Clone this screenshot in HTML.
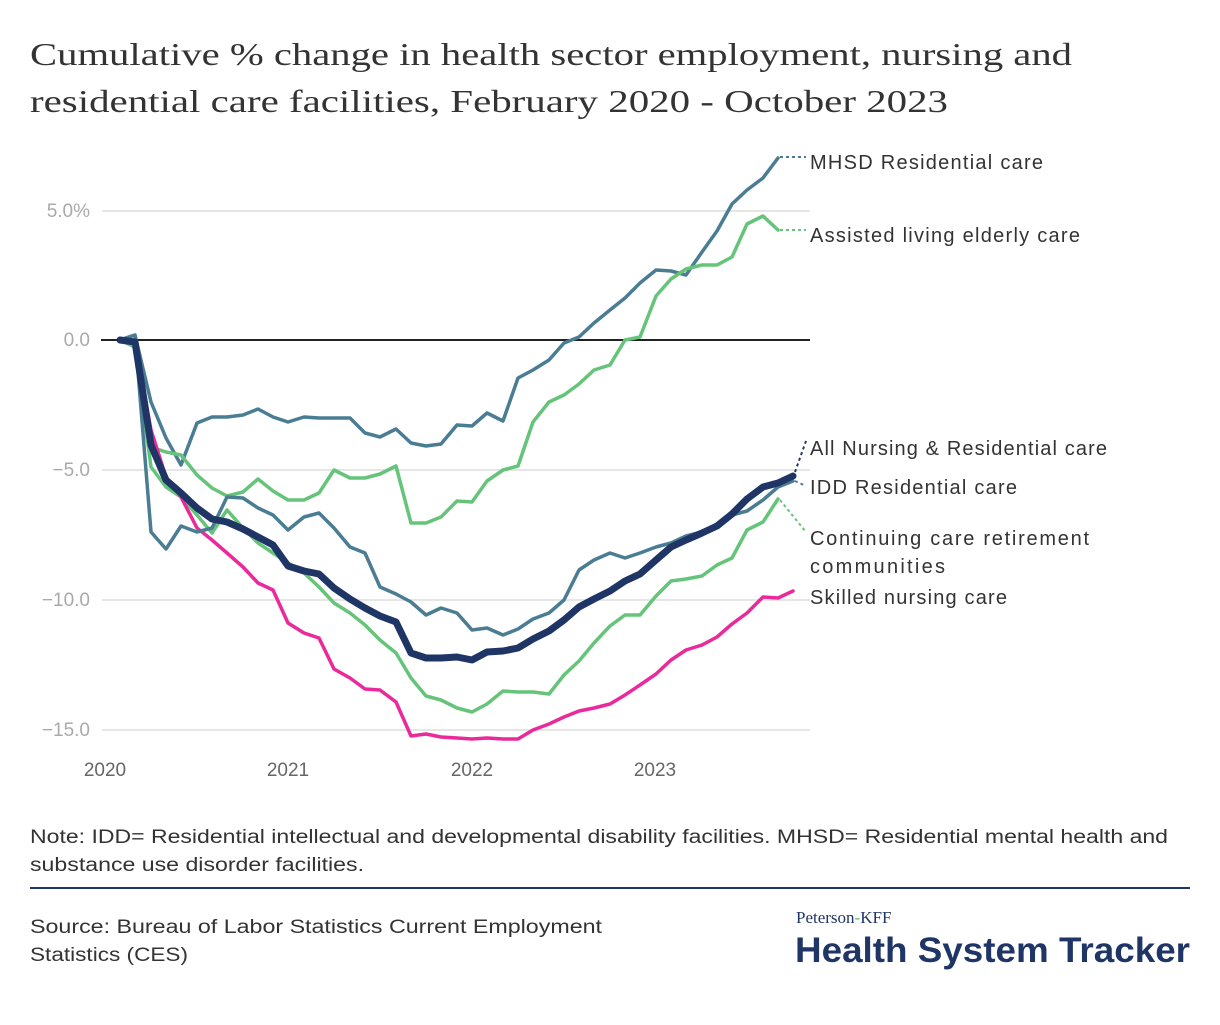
<!DOCTYPE html>
<html><head><meta charset="utf-8"><style>
html,body{margin:0;padding:0;background:#fff;}
svg text{font-family:"Liberation Sans",sans-serif;}
</style></head><body>
<svg width="1220" height="1020" viewBox="0 0 1220 1020" xmlns="http://www.w3.org/2000/svg">
<rect width="1220" height="1020" fill="#fff"/>
<text x="30" y="65" font-size="32" fill="#333" textLength="1042" lengthAdjust="spacingAndGlyphs" style="font-family:'Liberation Serif',serif">Cumulative % change in health sector employment, nursing and</text>
<text x="30" y="112" font-size="32" fill="#333" textLength="918" lengthAdjust="spacingAndGlyphs" style="font-family:'Liberation Serif',serif">residential care facilities, February 2020 - October 2023</text>

<g stroke="#e6e6e6" stroke-width="2">
<line x1="102" y1="211" x2="810" y2="211"/>
<line x1="102" y1="470" x2="810" y2="470"/>
<line x1="102" y1="600" x2="810" y2="600"/>
<line x1="102" y1="730" x2="810" y2="730"/>
</g>
<line x1="101" y1="340" x2="810" y2="340" stroke="#222" stroke-width="2"/>
<g font-size="19" fill="#aaa" text-anchor="end">
<text x="90" y="217">5.0%</text>
<text x="90" y="346">0.0</text>
<text x="90" y="476">−5.0</text>
<text x="90" y="606">−10.0</text>
<text x="90" y="736">−15.0</text>
</g>
<g font-size="19" fill="#666" text-anchor="middle">
<text x="105" y="776">2020</text>
<text x="288" y="776">2021</text>
<text x="472" y="776">2022</text>
<text x="655" y="776">2023</text>
</g>

<g fill="none" stroke-linejoin="round" stroke-linecap="round">
<polyline stroke="#4a7d93" stroke-width="3.5" points="120,340 135,335 151,402 166,438 181,465 197,423 212,417 227,417 243,415 258,409 273,417 288,422 304,417 319,418 334,418 350,418 365,433 380,437 396,429 411,443 426,446 441,444 457,425 472,426 487,413 503,421 518,378 533,370 549,360 564,343 579,337 594,323 610,310 625,298 640,283 656,270 671,271 686,275 702,252 717,231 732,204 747,190 763,178 778,158"/>
<polyline stroke="#66c47a" stroke-width="3.5" points="120,340 135,347 151,447 166,452 181,455 197,475 212,488 227,496 243,492 258,479 273,491 288,500 304,500 319,493 334,470 350,478 365,478 380,474 396,466 411,523 426,523 441,517 457,501 472,502 487,481 503,470 518,466 533,422 549,402 564,395 579,384 594,370 610,365 625,340 640,337 656,296 671,279 686,269 702,265 717,265 732,257 747,224 763,216 778,230"/>
<polyline stroke="#66c47a" stroke-width="3.5" points="120,340 135,347 151,467 166,487 181,497 197,515 212,533 227,510 243,528 258,543 273,553 288,563 304,573 319,587 334,603 350,613 365,625 380,640 396,653 411,678 426,696 441,700 457,708 472,712 487,704 503,691 518,692 533,692 549,694 564,675 579,661 594,643 610,626 625,615 640,615 656,596 671,581 686,579 702,576 717,565 732,558 747,530 763,522 778,499"/>
<polyline stroke="#ea2a9b" stroke-width="3.5" points="120,340 135,342 151,430 166,477 181,497 197,528 212,540 227,553 243,567 258,583 273,590 288,623 304,633 319,638 334,669 350,678 365,689 380,690 396,702 411,736 426,734 441,737 457,738 472,739 487,738 503,739 518,739 533,730 549,724 564,717 579,711 594,708 610,704 625,695 640,685 656,674 671,660 686,650 702,645 717,637 732,624 747,613 763,597 778,598 793,591"/>
<polyline stroke="#4a7d93" stroke-width="3.5" points="120,340 135,335 151,532 166,549 181,526 197,532 212,528 227,497 243,498 258,508 273,515 288,530 304,517 319,513 334,528 350,547 365,553 380,587 396,594 411,602 426,615 441,608 457,613 472,630 487,628 503,635 518,629 533,619 549,613 564,600 579,570 594,560 610,553 625,558 640,553 656,547 671,543 686,536 702,532 717,525 732,515 747,511 763,500 778,487 793,481"/>
<polyline stroke="#1f3566" stroke-width="7" points="120,340 135,342 151,445 166,480 181,493 197,508 212,519 227,522 243,529 258,537 273,545 288,566 304,571 319,574 334,588 350,599 365,608 380,616 396,622 411,653 426,658 441,658 457,657 472,660 487,652 503,651 518,648 533,639 549,631 564,620 579,607 594,599 610,591 625,581 640,574 656,560 671,547 686,540 702,533 717,526 732,514 747,499 763,487 778,483 793,476"/>
</g>

<g fill="none" stroke-width="2" stroke-dasharray="3,3">
<line x1="780" y1="157" x2="806" y2="157" stroke="#4a7d93"/>
<line x1="780" y1="230" x2="806" y2="230" stroke="#66c47a"/>
<line x1="795" y1="472" x2="806" y2="441" stroke="#1f3566"/>
<line x1="795" y1="481" x2="806" y2="486" stroke="#4a7d93"/>
<line x1="780" y1="500" x2="806" y2="532" stroke="#66c47a"/>
</g>
<g font-size="20" fill="#333" lengthAdjust="spacingAndGlyphs">
<text x="810" y="169" textLength="233">MHSD Residential care</text>
<text x="810" y="242" textLength="270">Assisted living elderly care</text>
<text x="810" y="455" textLength="297">All Nursing &amp; Residential care</text>
<text x="810" y="494" textLength="207">IDD Residential care</text>
<text x="810" y="545" textLength="279">Continuing care retirement</text>
<text x="810" y="573" textLength="135">communities</text>
<text x="810" y="604" textLength="197">Skilled nursing care</text>
</g>

<g font-size="19" fill="#333">
<text x="30" y="843" textLength="1138" lengthAdjust="spacingAndGlyphs">Note: IDD= Residential intellectual and developmental disability facilities. MHSD= Residential mental health and</text>
<text x="30" y="871" textLength="334" lengthAdjust="spacingAndGlyphs">substance use disorder facilities.</text>
<text x="30" y="933" textLength="572" lengthAdjust="spacingAndGlyphs">Source: Bureau of Labor Statistics Current Employment</text>
<text x="30" y="961" textLength="158" lengthAdjust="spacingAndGlyphs">Statistics (CES)</text>
</g>
<line x1="30" y1="888" x2="1190" y2="888" stroke="#1f3566" stroke-width="2"/>
<text x="796" y="923" font-size="17" fill="#1f3566" style="font-family:'Liberation Serif',serif">Peterson<tspan fill="#5bb870">-</tspan>KFF</text>
<text x="795" y="962" font-size="35" font-weight="bold" fill="#1f3566" textLength="395" lengthAdjust="spacingAndGlyphs">Health System Tracker</text>
</svg>
</body></html>
